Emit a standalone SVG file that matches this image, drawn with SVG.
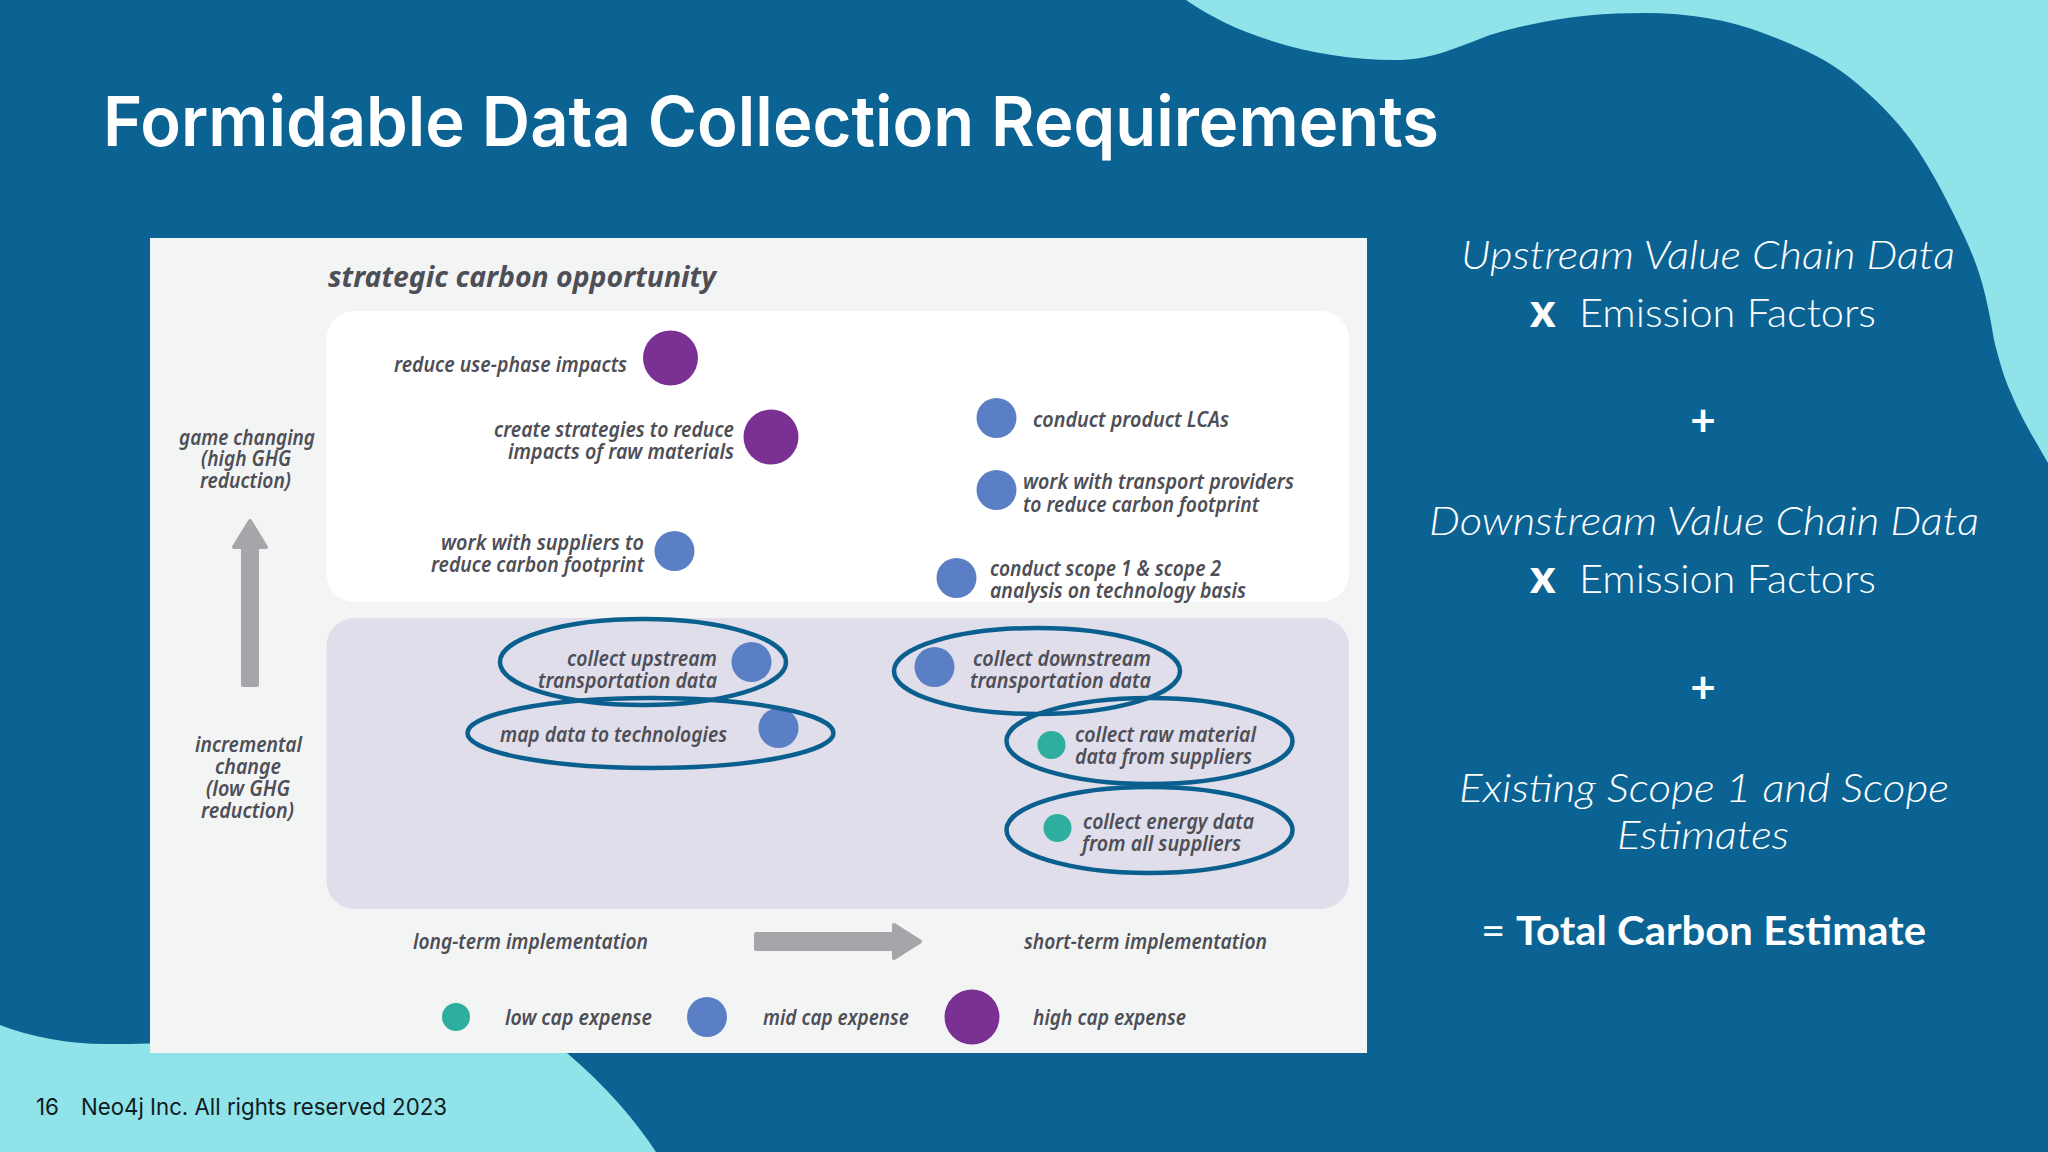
<svg xmlns="http://www.w3.org/2000/svg" width="2048" height="1152" viewBox="0 0 2048 1152">
<style>
.t{font-family:"Noto Sans","Open Sans",sans-serif;font-style:italic;font-weight:600;font-size:21px;fill:#4e4e56}
.r{font-family:"Lato","Open Sans",sans-serif;font-weight:300;font-size:40px;fill:#fff}
.x{font-weight:900;font-size:48px}
.i{font-style:italic}
.o{fill:none;stroke:#0b5f8e;stroke-width:4.5}
.p{fill:#7a3193}.b{fill:#5a7fc4}.g{fill:#2eae9f}
.a{fill:#a5a6aa;stroke:#a5a6aa;stroke-width:4;stroke-linejoin:round}
</style>
<rect width="2048" height="1152" fill="#0b6394"/>
<path fill="#8fe3e9" d="M1186,0C1240,38 1320,60 1395,60C1430,60 1450,50 1490,35C1550,17 1600,13 1644,13C1690,13 1730,20 1763,33C1795,45 1825,58 1849,77C1875,98 1895,118 1913,143C1930,168 1943,192 1955,217C1964,235 1971,250 1977,267C1985,290 1990,315 1994,340C1999,360 2004,378 2011,393C2022,420 2035,440 2048,463V0Z"/>
<path fill="#8fe3e9" d="M0,1025C30,1037 70,1044 105,1044C180,1044 250,1040 400,1015C490,1000 530,1025 567,1053C605,1085 635,1120 656,1152H0Z"/>
<text x="103" y="146" textLength="1336" lengthAdjust="spacingAndGlyphs" style="font-family:Inter,Roboto,sans-serif;font-weight:600;font-size:69px;fill:#fff">Formidable Data Collection Requirements</text>
<rect id="panel" x="150" y="238" width="1217" height="815" fill="#f3f5f5"/>
<rect id="zone-high" x="326.500" y="311" width="1022.500" height="291" rx="28" fill="#fff"/>
<rect id="zone-low" x="326.500" y="618" width="1022.500" height="291" rx="28" fill="#dfdeea"/>
<g id="axes">
<path class="a" d="M243,685V547H234L250,521L266,547H257V685Z"/>
<path class="a" d="M756,934H894V925L920,941.500L894,958V949H756Z"/>
<text class="t" x="179" y="445" textLength="136" lengthAdjust="spacingAndGlyphs">game changing</text>
<text class="t" x="201" y="466" textLength="90" lengthAdjust="spacingAndGlyphs">(high GHG</text>
<text class="t" x="200" y="488" textLength="91" lengthAdjust="spacingAndGlyphs">reduction)</text>
<text class="t" x="195" y="752" textLength="107" lengthAdjust="spacingAndGlyphs">incremental</text>
<text class="t" x="215" y="774" textLength="66" lengthAdjust="spacingAndGlyphs">change</text>
<text class="t" x="206" y="796" textLength="84" lengthAdjust="spacingAndGlyphs">(low GHG</text>
<text class="t" x="201" y="818" textLength="93" lengthAdjust="spacingAndGlyphs">reduction)</text>
<text class="t" x="413" y="949" textLength="235" lengthAdjust="spacingAndGlyphs">long-term implementation</text>
<text class="t" x="1024" y="949" textLength="243" lengthAdjust="spacingAndGlyphs">short-term implementation</text>
</g>
<text class="t" x="328" y="287" textLength="388" lengthAdjust="spacingAndGlyphs" style="font-size:29px;font-weight:700">strategic carbon opportunity</text>
<g id="n1"><circle class="p" cx="670.500" cy="358" r="27.500"/><text class="t" x="394" y="372" textLength="233" lengthAdjust="spacingAndGlyphs">reduce use-phase impacts</text></g>
<g id="n2"><circle class="p" cx="771" cy="437" r="27.500"/><text class="t" x="494" y="437" textLength="240" lengthAdjust="spacingAndGlyphs">create strategies to reduce</text><text class="t" x="508" y="459" textLength="226" lengthAdjust="spacingAndGlyphs">impacts of raw materials</text></g>
<g id="n3"><circle class="b" cx="674.500" cy="551" r="20"/><text class="t" x="441" y="550" textLength="203" lengthAdjust="spacingAndGlyphs">work with suppliers to</text><text class="t" x="431" y="572" textLength="213" lengthAdjust="spacingAndGlyphs">reduce carbon footprint</text></g>
<g id="n4"><circle class="b" cx="996.500" cy="418" r="20"/><text class="t" x="1033" y="427" textLength="196" lengthAdjust="spacingAndGlyphs">conduct product LCAs</text></g>
<g id="n5"><circle class="b" cx="996.500" cy="490" r="20"/><text class="t" x="1023" y="489" textLength="271" lengthAdjust="spacingAndGlyphs">work with transport providers</text><text class="t" x="1023" y="512" textLength="236" lengthAdjust="spacingAndGlyphs">to reduce carbon footprint</text></g>
<g id="n6"><circle class="b" cx="956.500" cy="578" r="20"/><text class="t" x="990" y="576" textLength="231" lengthAdjust="spacingAndGlyphs">conduct scope 1 &amp; scope 2</text><text class="t" x="990" y="598" textLength="256" lengthAdjust="spacingAndGlyphs">analysis on technology basis</text></g>
<g id="n7"><circle class="b" cx="751.500" cy="662" r="20"/><text class="t" x="567" y="666" textLength="150" lengthAdjust="spacingAndGlyphs">collect upstream</text><text class="t" x="538" y="688" textLength="179" lengthAdjust="spacingAndGlyphs">transportation data</text></g>
<g id="n8"><circle class="b" cx="778.500" cy="728" r="20"/><text class="t" x="500" y="742" textLength="227" lengthAdjust="spacingAndGlyphs">map data to technologies</text></g>
<g id="n9"><circle class="b" cx="934.500" cy="667" r="20"/><text class="t" x="973" y="666" textLength="178" lengthAdjust="spacingAndGlyphs">collect downstream</text><text class="t" x="970" y="688" textLength="181" lengthAdjust="spacingAndGlyphs">transportation data</text></g>
<g id="n10"><circle class="g" cx="1051.500" cy="745" r="14"/><text class="t" x="1075" y="742" textLength="181" lengthAdjust="spacingAndGlyphs">collect raw material</text><text class="t" x="1075" y="764" textLength="177" lengthAdjust="spacingAndGlyphs">data from suppliers</text></g>
<g id="n11"><circle class="g" cx="1057.500" cy="828" r="14"/><text class="t" x="1083" y="829" textLength="171" lengthAdjust="spacingAndGlyphs">collect energy data</text><text class="t" x="1082" y="851" textLength="159" lengthAdjust="spacingAndGlyphs">from all suppliers</text></g>
<g id="highlights">
<ellipse class="o" cx="643" cy="662" rx="143" ry="43"/>
<ellipse class="o" cx="650.500" cy="733" rx="183" ry="35"/>
<ellipse class="o" cx="1037" cy="671" rx="143" ry="43"/>
<ellipse class="o" cx="1149.500" cy="741" rx="143" ry="43"/>
<ellipse class="o" cx="1149.500" cy="830" rx="143" ry="43"/>
</g>
<g id="legend">
<circle class="g" cx="456" cy="1017" r="14"/><text class="t" x="505" y="1025" textLength="147" lengthAdjust="spacingAndGlyphs">low cap expense</text>
<circle class="b" cx="707" cy="1017" r="20"/><text class="t" x="763" y="1025" textLength="146" lengthAdjust="spacingAndGlyphs">mid cap expense</text>
<circle class="p" cx="972" cy="1017" r="27.500"/><text class="t" x="1033" y="1025" textLength="153" lengthAdjust="spacingAndGlyphs">high cap expense</text>
</g>
<g id="formula">
<text class="r i" x="1461" y="269" textLength="494" lengthAdjust="spacingAndGlyphs">Upstream Value Chain Data</text>
<text class="r x" x="1530" y="327">x</text>
<text class="r" x="1579" y="327" textLength="297" lengthAdjust="spacingAndGlyphs">Emission Factors</text>
<text class="r" x="1703" y="436" text-anchor="middle" style="font-weight:700;font-size:44px">+</text>
<text class="r i" x="1429" y="535" textLength="550" lengthAdjust="spacingAndGlyphs">Downstream Value Chain Data</text>
<text class="r x" x="1530" y="593">x</text>
<text class="r" x="1579" y="593" textLength="297" lengthAdjust="spacingAndGlyphs">Emission Factors</text>
<text class="r" x="1703" y="703" text-anchor="middle" style="font-weight:700;font-size:44px">+</text>
<text class="r i" x="1459" y="802" textLength="490" lengthAdjust="spacingAndGlyphs">Existing Scope 1 and Scope</text>
<text class="r i" x="1617" y="849" textLength="172" lengthAdjust="spacingAndGlyphs">Estimates</text>
<text class="r" x="1481" y="945" textLength="445" lengthAdjust="spacingAndGlyphs" style="font-weight:400">= <tspan style="font-weight:700">Total Carbon Estimate</tspan></text>
</g>
<g id="footer" style="font-family:Inter,Roboto,sans-serif;font-size:23px;fill:#111b22">
<text x="36" y="1115" textLength="23" lengthAdjust="spacingAndGlyphs">16</text>
<text x="81" y="1115" textLength="366" lengthAdjust="spacingAndGlyphs">Neo4j Inc. All rights reserved 2023</text>
</g>
</svg>
